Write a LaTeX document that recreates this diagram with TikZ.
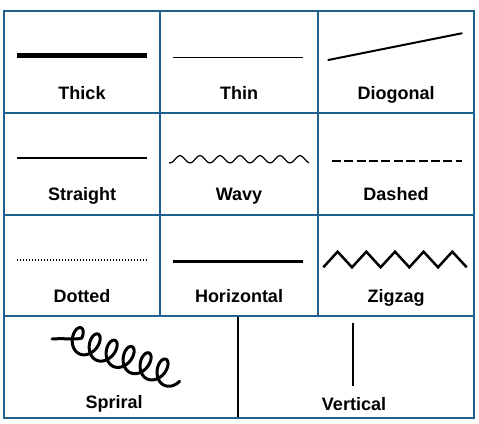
\documentclass[tikz,border=0pt]{standalone}
\usepackage{fontspec}
\setmainfont{Liberation Sans}
\definecolor{gridblue}{HTML}{1F618D}
\begin{document}
\begin{tikzpicture}[x=1pt,y=-1pt,
  gridline/.style={draw=gridblue, line width=2pt},
  lbl/.style={anchor=base, font=\fontsize{18}{20}\selectfont\bfseries, inner sep=0pt},
  stroke/.style={draw=black, line cap=butt}
]
\useasboundingbox (0,0) rectangle (479,423);
% grid
\draw[gridline] (4,11) rectangle (474,418);
\draw[gridline] (4,113) -- (474,113);
\draw[gridline] (4,215) -- (474,215);
\draw[gridline] (4,316) -- (474,316);
\draw[gridline] (160,11) -- (160,316);
\draw[gridline] (318,11) -- (318,316);
\draw[black, line width=2pt] (238,317) -- (238,417);

% coordinates
\coordinate (thickA) at (17,55);   \coordinate (thickB) at (147,55);
\coordinate (thinA) at (173,57.5); \coordinate (thinB) at (302.7,57.5);
\coordinate (diagA) at (328.3,60); \coordinate (diagB) at (461.7,33.3);
\coordinate (strA) at (16.7,157.7); \coordinate (strB) at (146.7,157.7);
\coordinate (dashA) at (331.7,161); \coordinate (dashB) at (461.7,161);
\coordinate (dotA) at (16.7,260);  \coordinate (dotB) at (146.7,260);
\coordinate (horA) at (172.7,261.7); \coordinate (horB) at (302.7,261.7);
\coordinate (verA) at (353.3,322.7); \coordinate (verB) at (353.3,386);

% lines
\draw[stroke, line width=5pt] (thickA) -- (thickB);
\draw[stroke, line width=1.1pt] (thinA) -- (thinB);
\draw[stroke, line width=2pt, line cap=round] (diagA) -- (diagB);
\draw[stroke, line width=2.2pt] (strA) -- (strB);
\draw[stroke, line width=1.2pt] plot[domain=169:309, samples=141, smooth] (\x, {159.3+3.6*cos((\x-170)*18)});
\draw[stroke, line width=2pt, dash pattern=on 9pt off 3.4pt] (dashA) -- (dashB);
\draw[stroke, line width=1.5pt, dash pattern=on 1.3pt off 1.7pt] (dotA) -- (dotB);
\draw[stroke, line width=3pt] (horA) -- (horB);
\draw[stroke, line width=2.5pt] (323.3,267.3) -- (337.6,251.7) -- (352,267.3) -- (366.3,251.7) -- (380.6,267.3) -- (395,251.7) -- (409.3,267.3) -- (423.6,251.7) -- (438,267.3) -- (452.3,251.7) -- (466.7,267.3);
\draw[stroke, line width=2pt] (verA) -- (verB);

% spiral
\coordinate (spA) at (52,339);
\coordinate (spB) at ({68.5+2.7*pi/2+9}, {336.5+1.0*pi/2});
\draw[black, line width=3pt, line cap=round] (spA) .. controls (66,338) and (76,340) .. (spB);
\draw[black, line width=3pt, line cap=round, line join=round] plot[domain={pi/2}:{12*pi+pi/3}, samples=500, smooth] ({68.5+2.7*\x+9*sin(\x r)-2.5*cos(\x r)}, {336.5+1.0*\x+12*cos(\x r)});

% labels
\node[lbl] (lThick) at (82,99.3) {Thick};
\node[lbl] (lThin) at (239,99.3) {Thin};
\node[lbl] (lDiag) at (396,99.3) {Diogonal};
\node[lbl] (lStr) at (82,200.7) {Straight};
\node[lbl] (lWavy) at (239,200.7) {Wavy};
\node[lbl] (lDash) at (396,200.7) {Dashed};
\node[lbl] (lDot) at (82,302.5) {Dotted};
\node[lbl] (lHor) at (239,302.5) {Horizontal};
\node[lbl] (lZig) at (396,302.5) {Zigzag};
\node[lbl] (lSpi) at (114.2,408.7) {Spriral};
\node[lbl] (lVer) at (354,410) {Vertical};
\end{tikzpicture}
\end{document}
